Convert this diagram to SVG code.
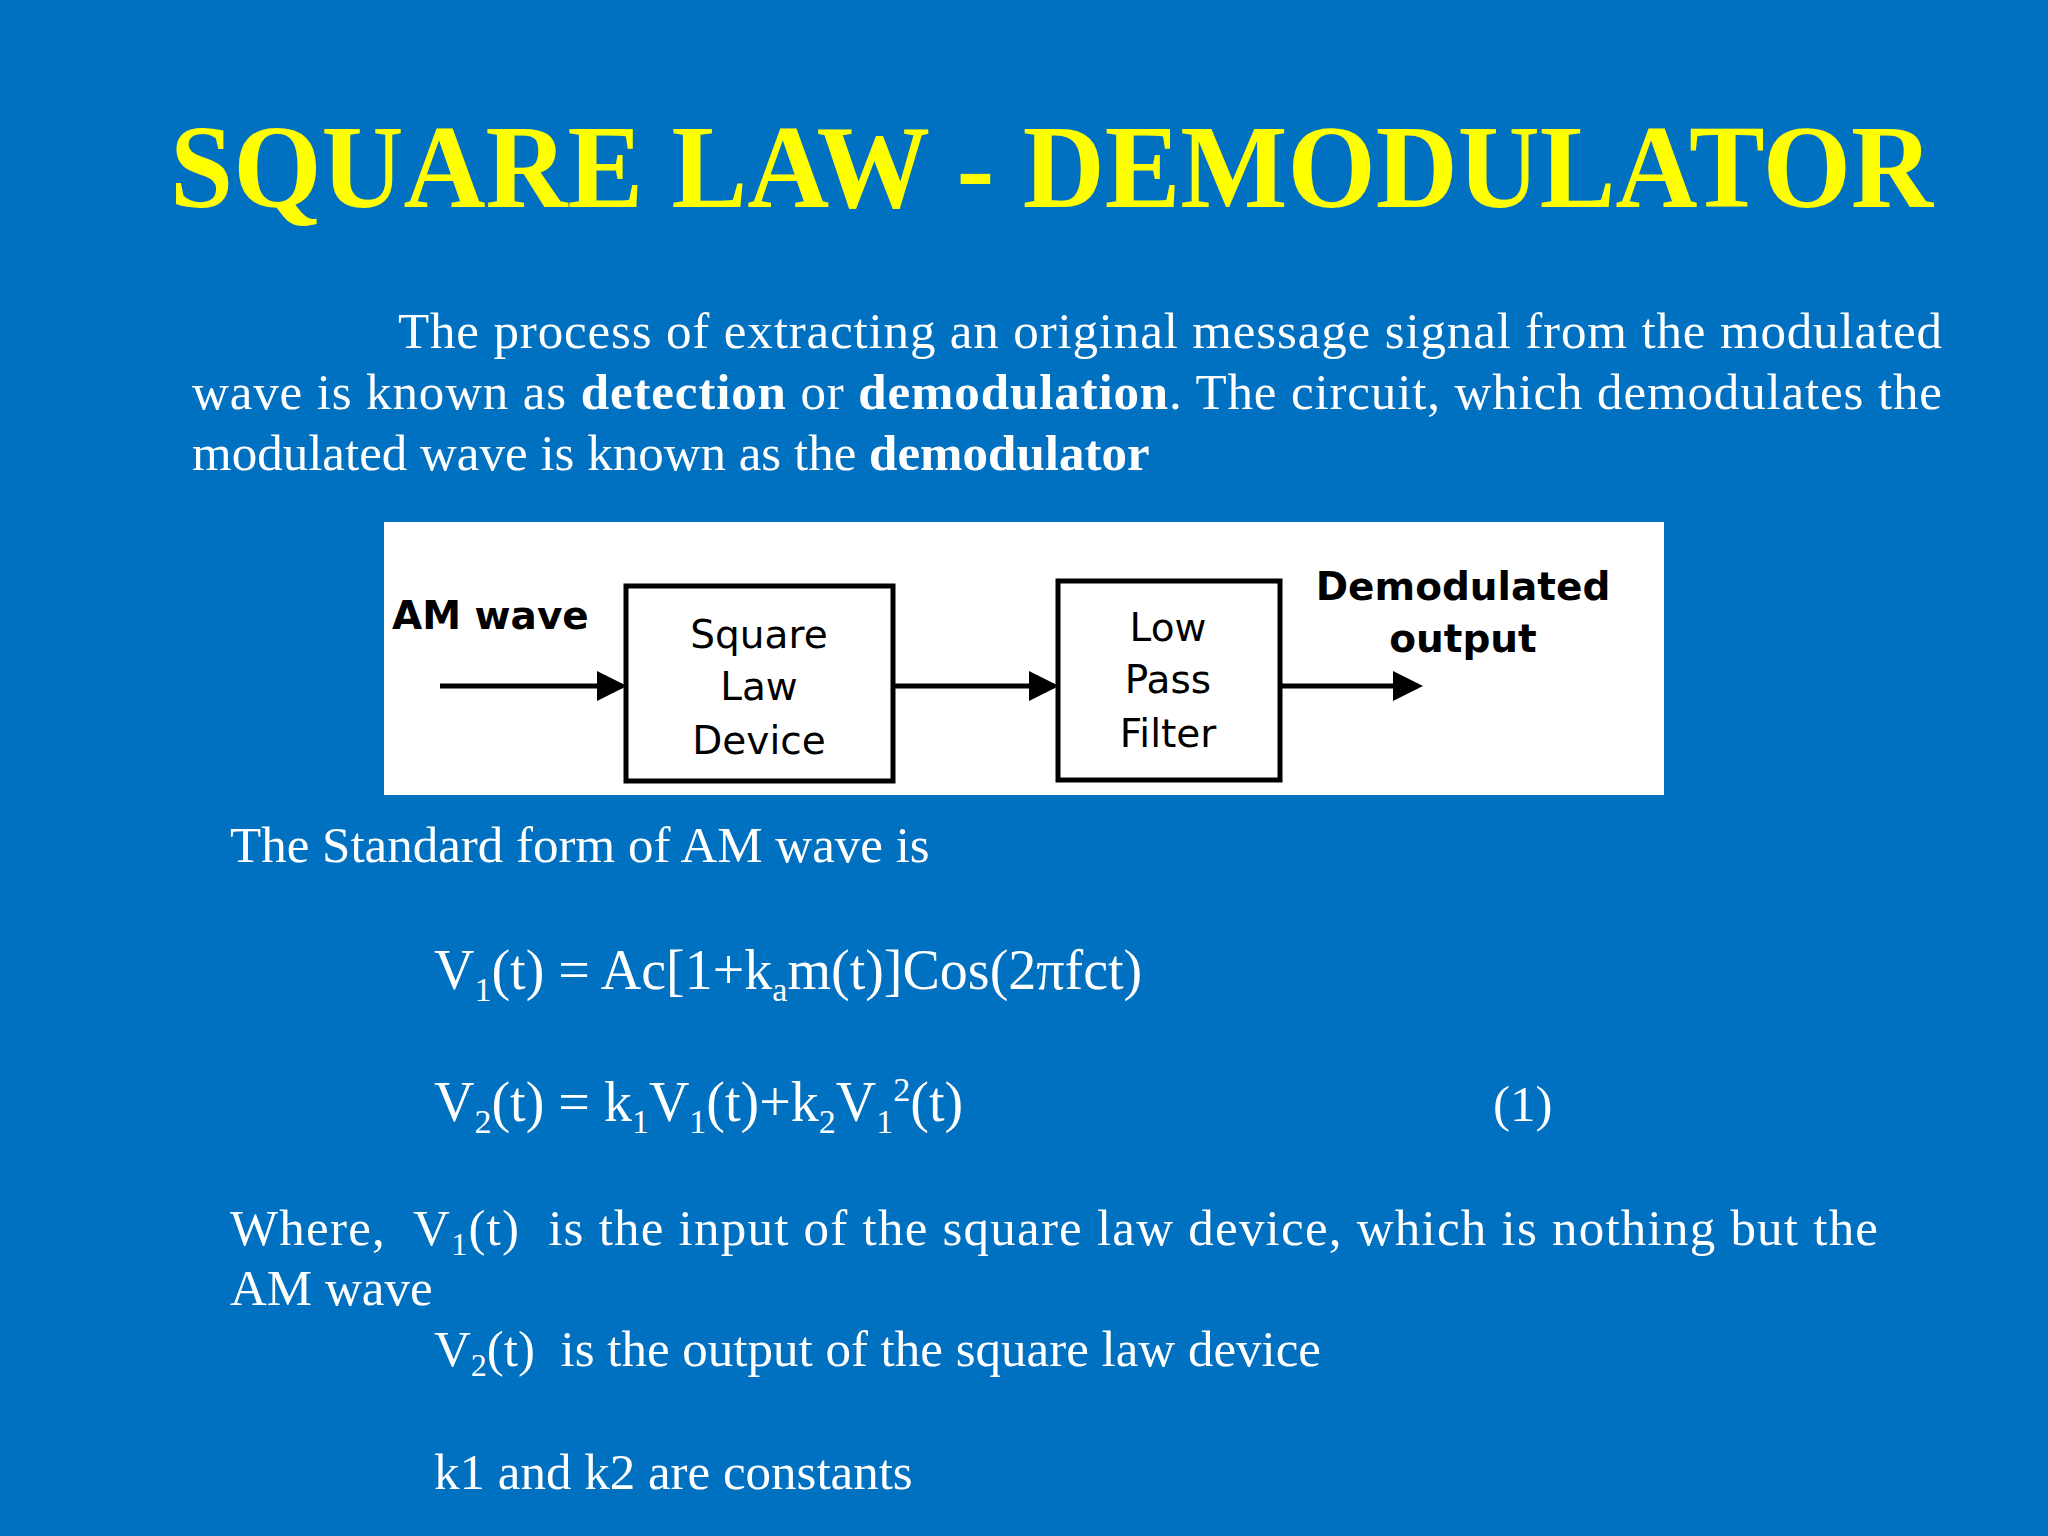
<svg xmlns="http://www.w3.org/2000/svg" width="2048" height="1536" viewBox="0 0 2048 1536">
<style>
.t{font-family:"Liberation Serif",serif;fill:#fff;font-size:51px;white-space:pre}
.e{font-family:"Liberation Serif",serif;fill:#fff;font-size:56px}
.d{font-family:"DejaVu Sans",sans-serif;fill:#000;font-size:39px;text-anchor:middle}
.b{font-weight:bold}
.box{fill:#fff;stroke:#000;stroke-width:5}
</style>
<defs><marker id="ah" markerWidth="6" markerHeight="6" refX="5" refY="3" orient="auto" markerUnits="strokeWidth"><path d="M0,0L6,3L0,6z" fill="#000"/></marker></defs>
<rect width="2048" height="1536" fill="#0070C0"/>
<text x="170" y="207" font-family="Liberation Serif,serif" font-weight="bold" font-size="118" fill="#FFFF00" textLength="1763" lengthAdjust="spacingAndGlyphs">SQUARE LAW - DEMODULATOR</text>
<text class="t" x="398" y="348" textLength="1544">The process of extracting an original message signal from the modulated</text>
<text class="t" x="192" y="409" textLength="1750">wave is known as <tspan class="b">detection</tspan> or <tspan class="b">demodulation</tspan>. The circuit, which demodulates the</text>
<text class="t" x="192" y="470">modulated wave is known as the <tspan class="b">demodulator</tspan></text>
<rect x="384" y="522" width="1280" height="273" fill="#fff"/>
<g id="connectors" stroke="#000" stroke-width="5" fill="none">
<line x1="440" y1="686" x2="622" y2="686" marker-end="url(#ah)"/>
<line x1="893" y1="686" x2="1054" y2="686" marker-end="url(#ah)"/>
<line x1="1280" y1="686" x2="1418" y2="686" marker-end="url(#ah)"/>
</g>
<g id="am"><text class="d b" x="392" y="629" style="text-anchor:start">AM wave</text></g>
<g id="sq"><rect class="box" x="626" y="586" width="267" height="195"/>
<text class="d" x="759" y="648">Square</text><text class="d" x="759" y="700">Law</text><text class="d" x="759" y="754">Device</text></g>
<g id="lpf"><rect class="box" x="1058" y="581" width="222" height="199"/>
<text class="d" x="1168" y="641">Low</text><text class="d" x="1168" y="693">Pass</text><text class="d" x="1168" y="747">Filter</text></g>
<g id="out"><text class="d b" x="1463" y="600">Demodulated</text><text class="d b" x="1463" y="652">output</text></g>
<text class="t" x="230" y="862">The Standard form of AM wave is</text>
<text class="e" x="434" y="989">V<tspan font-size="34" dy="12">1</tspan><tspan dy="-12">(t) = Ac[1+k</tspan><tspan font-size="34" dy="12">a</tspan><tspan dy="-12">m(t)]Cos(2πfct)</tspan></text>
<text class="e" x="434" y="1121">V<tspan font-size="34" dy="12">2</tspan><tspan dy="-12">(t) = k</tspan><tspan font-size="34" dy="12">1</tspan><tspan dy="-12">V</tspan><tspan font-size="34" dy="12">1</tspan><tspan dy="-12">(t)+k</tspan><tspan font-size="34" dy="12">2</tspan><tspan dy="-12">V</tspan><tspan font-size="34" dy="12">1</tspan><tspan font-size="34" dy="-32">2</tspan><tspan dy="20">(t)</tspan></text>
<text class="t" x="1493" y="1121">(1)</text>
<text class="t" x="230" y="1245" textLength="1648">Where,  V<tspan font-size="32" dy="10">1</tspan><tspan dy="-10">(t)  is the input of the square law device, which is nothing but the</tspan></text>
<text class="t" x="230" y="1305">AM wave</text>
<text class="t" x="434" y="1366">V<tspan font-size="32" dy="10">2</tspan><tspan dy="-10">(t)  is the output of the square law device</tspan></text>
<text class="t" x="434" y="1489">k1 and k2 are constants</text>
</svg>
